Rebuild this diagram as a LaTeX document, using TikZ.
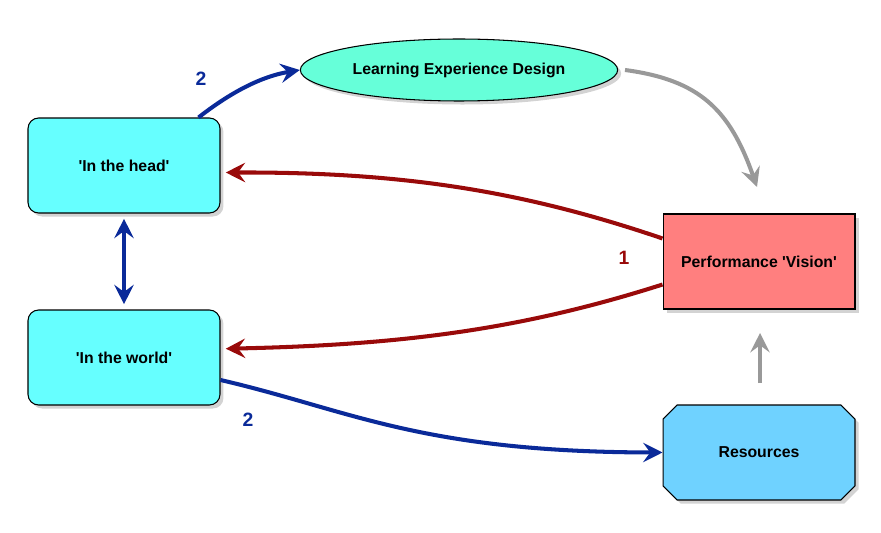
\documentclass[tikz,border=0pt]{standalone}
\usepackage{fontspec}
\setmainfont{Liberation Sans}
\usetikzlibrary{arrows.meta,shapes.geometric,shapes.misc,shadows}
\definecolor{cyanbox}{HTML}{66FFFF}
\definecolor{ellfill}{HTML}{66FFD9}
\definecolor{perf}{HTML}{FF7F7F}
\definecolor{resf}{HTML}{6FD2FF}
\definecolor{dblue}{HTML}{0A2A99}
\definecolor{dred}{HTML}{990A0A}
\definecolor{gr}{HTML}{999999}
\newcommand{\q}{\textquotesingle}
\begin{document}
\begin{tikzpicture}[x=0.02cm,y=-0.02cm,
 box/.style={draw=black,line width=0.6pt,minimum width=3.84cm,minimum height=1.9cm,font=\fontsize{9}{11}\selectfont\bfseries,drop shadow={shadow xshift=2pt,shadow yshift=-2pt,opacity=0.35}},
 conn/.style={line width=2.3pt,-{Stealth[length=11pt,width=11pt,inset=4pt]}},
 lab/.style={font=\fontsize{11}{13}\selectfont\bfseries}]
\useasboundingbox (0,0) rectangle (881,533);
\node[box,fill=cyanbox,rounded corners=6pt] (head) at (124,165.5) {\q In the head\q};
\node[box,fill=cyanbox,rounded corners=6pt] (world) at (124,357.5) {\q In the world\q};
\node[box,fill=ellfill,ellipse,minimum width=5.72cm,minimum height=1.24cm] (led) at (459,70) {Learning Experience Design};
\node[box,fill=perf] (perf) at (759,261.5) {Performance \q Vision\q};
\node[box,fill=resf,chamfered rectangle,chamfered rectangle xsep=4pt,chamfered rectangle ysep=4pt,minimum width=3.84cm,minimum height=1.9cm] (res) at (759,452.5) {Resources};
\coordinate (g1) at (625,70);
\coordinate (g2) at (757,187);
\coordinate (g3) at (760,383);
\coordinate (g4) at (760,333);
\draw[conn,dblue] (head.north east)++(-22,0) coordinate (h1) .. controls (240,85) and (270,75) .. (led.west);
\draw[conn,gr] (g1) .. controls (700,80) and (730,110) .. (g2);
\draw[conn,gr] (g3) -- (g4);
\draw[conn,dred] ([yshift=-0.5cm]perf.north west) .. controls (520,190) and (400,172) .. ([xshift=3pt,yshift=-4pt]head.east);
\draw[conn,dred] ([yshift=0.5cm]perf.south west) .. controls (520,330) and (400,345) .. ([xshift=3pt,yshift=5pt]world.east);
\draw[dblue,line width=2.3pt,{Stealth[length=11pt,width=11pt,inset=4pt]}-{Stealth[length=11pt,width=11pt,inset=4pt]}] ([yshift=-3pt]head.south) -- ([yshift=3pt]world.north);
\draw[conn,dblue] ([yshift=-0.45cm]world.east) .. controls (350,410) and (420,452) .. (res.west);
\node[lab,dblue] (l2a) at (201,79) {2};
\node[lab,dred] (l1) at (624,258) {1};
\node[lab,dblue] (l2b) at (248,420) {2};
\end{tikzpicture}
\end{document}
